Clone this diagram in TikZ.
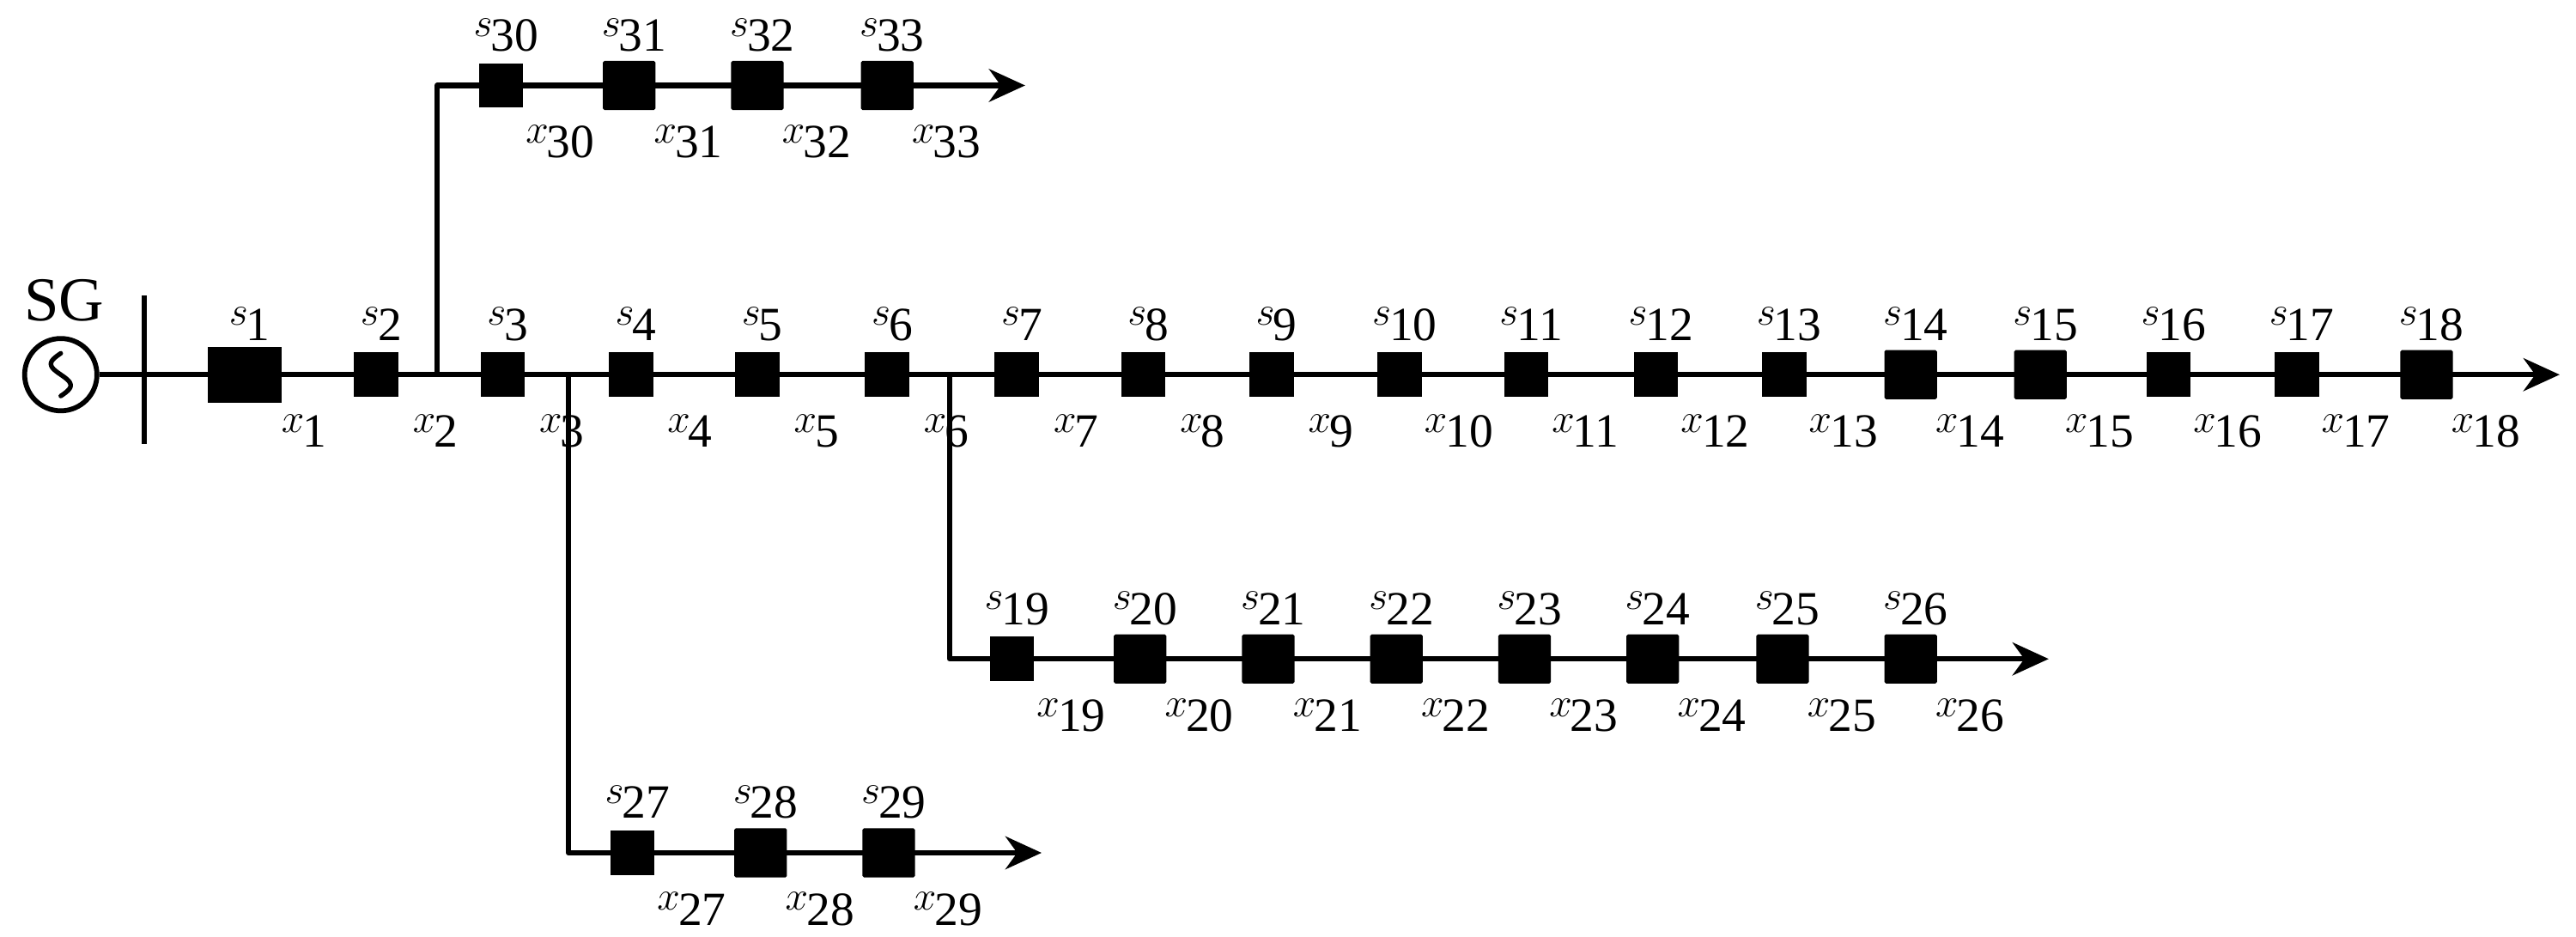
\documentclass[tikz,border=0pt]{standalone}
\usepackage{fontspec}
\setmainfont{Liberation Serif}
\usetikzlibrary{arrows.meta}
\newcommand{\lab}[2]{{\fontsize{38}{42}\selectfont$#1$}\kern-1pt\raisebox{-9pt}{\fontsize{29}{32}\selectfont #2}}
\begin{document}
\begin{tikzpicture}[x=1pt,y=-1pt,
  wire/.style={line width=3.2pt},
  arr/.style={wire,-{Stealth[length=22pt,width=20pt]}},
  sm/.style={fill=black,minimum width=27pt,minimum height=27pt,inner sep=0pt},
  bg/.style={fill=black,minimum width=32pt,minimum height=30pt,inner sep=0pt,rounded corners=1pt},
  lbl/.style={inner sep=0pt}]
\useasboundingbox (0,0) rectangle (1568,570);
% source
\node[draw,circle,line width=3pt,minimum size=44pt,inner sep=0pt] (sg) at (37,228) {};
\draw[line width=2.8pt,line cap=round] plot[domain=-1:1,samples=40,smooth] ({37+6*sin(\x*180)},{228+13*\x});
\node[inner sep=0pt,font=\fontsize{38}{40}\selectfont] (sgt) at (39,183) {SG};
\coordinate (bt) at (88,180); \coordinate (bb) at (88,270);
\draw[line width=3pt] (bt) -- (bb);
% main line
\coordinate (m0) at (sg.east);
\coordinate (mend) at (1558,228);
\draw[arr] (m0) -- (mend);
% branches
\coordinate (j2) at (266,228); \coordinate (t0) at (266,52); \coordinate (tend) at (624,52);
\draw[arr,line join=round] (j2) -- (t0) -- (tend);
\coordinate (j3) at (346,228); \coordinate (b0) at (346,519); \coordinate (bend) at (634,519);
\draw[arr,line join=round] (j3) -- (b0) -- (bend);
\coordinate (j6) at (578,228); \coordinate (c0) at (578,401); \coordinate (cend) at (1247,401);
\draw[arr,line join=round] (j6) -- (c0) -- (cend);
% switches
\node[fill=black,minimum width=45pt,minimum height=34pt,inner sep=0pt] (s1) at (149,228) {};
\foreach \i/\x/\y/\st in {2/229/228/sm,3/306/228/sm,4/384/228/sm,5/461/228/sm,6/540/228/sm,7/619/228/sm,
  8/696/228/sm,9/774/228/sm,10/852/228/sm,11/929/228/sm,12/1008/228/sm,13/1086/228/sm,
  14/1163/228/bg,15/1242/228/bg,16/1320/228/sm,17/1398/228/sm,18/1477/228/bg,
  19/616/401/sm,20/694/401/bg,21/772/401/bg,22/850/401/bg,23/928/401/bg,24/1006/401/bg,25/1085/401/bg,26/1163/401/bg,
  27/385/519/sm,28/463/519/bg,29/541/519/bg,
  30/305/52/sm,31/383/52/bg,32/461/52/bg,33/540/52/bg}
{
  \node[\st] (s\i) at (\x,\y) {};
};
\foreach \i/\x/\y in {1/149/228,2/229/228,3/306/228,4/384/228,5/461/228,6/540/228,7/619/228,
  8/696/228,9/774/228,10/852/228,11/929/228,12/1008/228,13/1086/228,
  14/1163/228,15/1242/228,16/1320/228,17/1398/228,18/1477/228,
  19/616/401,20/694/401,21/772/401,22/850/401,23/928/401,24/1006/401,25/1085/401,26/1163/401,
  27/385/519,28/463/519,29/541/519,
  30/305/52,31/383/52,32/461/52,33/540/52}
{
  \node[lbl,anchor=base] (sl\i) at (\x+3,\y-30) {\lab{s}{\i}};
  \node[lbl,anchor=base] (xl\i) at (\x+36,\y+35) {\lab{x}{\i}};
};
\end{tikzpicture}
\end{document}
